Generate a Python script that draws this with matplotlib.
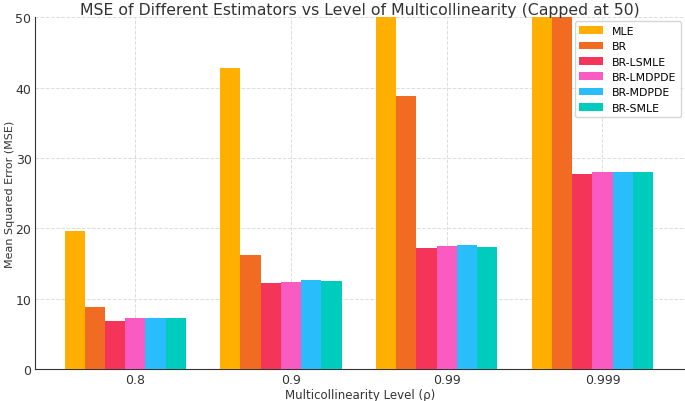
import numpy as np
import matplotlib.pyplot as plt

# Multicollinearity levels and MSE per estimator (capped at 50)
levels = ['0.8', '0.9', '0.99', '0.999']
estimators = ['MLE', 'BR', 'BR-LSMLE', 'BR-LMDPDE', 'BR-MDPDE', 'BR-SMLE']
mle = [19.65, 42.8, 50.0, 50.0]
br = [8.85, 16.2, 38.75, 50.0]
br_lsmle = [6.85, 12.3, 17.15, 27.75]
br_lmdpde = [7.22, 12.45, 17.55, 27.95]
br_mdpde = [7.22, 12.7, 17.7, 28.0]
br_smle = [7.22, 12.55, 17.3, 28.0]
series = [mle, br, br_lsmle, br_lmdpde, br_mdpde, br_smle]
colors = ['#FFAF00', '#F26B23', '#F43458', '#F95BC3', '#29BDFB', '#00CCBE']

fig = plt.figure(figsize=(6.85, 4.02), dpi=100)
ax = fig.add_axes([0.051, 0.079, 0.949, 0.876])

x = np.arange(len(levels))
width = 0.13
for i, (name, vals) in enumerate(zip(estimators, series)):
    ax.bar(x + (i - 3) * width, np.minimum(vals, 50), width, color=colors[i],
           label=name, zorder=3)

ax.set_xticks(x)
ax.set_xticklabels(levels)
ax.set_xlim(-0.645, 3.53)
ax.set_ylim(0, 50)
ax.set_yticks([0, 10, 20, 30, 40, 50])
ax.grid(True, linestyle='--', color='#DDDDDD', linewidth=0.7, zorder=0)
for s in ['top', 'right']:
    ax.spines[s].set_visible(False)
for s in ['left', 'bottom']:
    ax.spines[s].set_color('#333333')
ax.tick_params(colors='#333333', labelsize=9, length=0, pad=3)
ax.tick_params(axis='y', pad=2.5)

ax.set_xlabel('Multicollinearity Level (ρ)', fontsize=8.5, color='#333333', labelpad=1)
ax.set_ylabel('Mean Squared Error (MSE)', fontsize=8, color='#333333', labelpad=0.5)
ax.set_title('MSE of Different Estimators vs Level of Multicollinearity (Capped at 50)',
             fontsize=11.3, color='#333333', pad=2)
leg = ax.legend(loc='upper right', fontsize=7.8, frameon=True, borderaxespad=0.4,
                labelspacing=0.5, handlelength=2.2)
leg.get_frame().set_edgecolor('#CCCCCC')

fig.savefig('out.png', dpi=100)
